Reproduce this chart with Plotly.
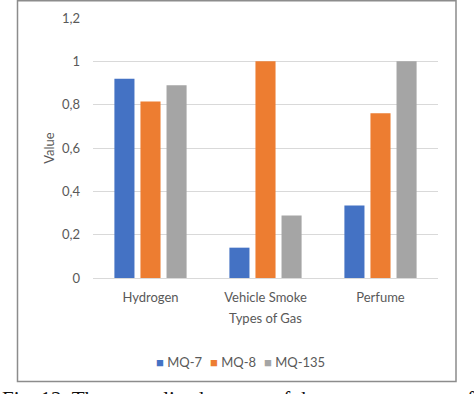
import plotly.graph_objects as go

categories = ["Hydrogen", "Vehicle Smoke", "Perfume"]
series_names = ["MQ-7", "MQ-8", "MQ-135"]
mq7 = [0.92, 0.14, 0.335]
mq8 = [0.815, 1.0, 0.76]
mq135 = [0.89, 0.288, 1.0]
colors = ["#4472C4", "#ED7D31", "#A5A5A5"]
y_ticks = [0, 0.2, 0.4, 0.6, 0.8, 1.0, 1.2]
y_ticktext = ["0", "0,2", "0,4", "0,6", "0,8", "1", "1,2"]
caption = "Fig. 12. The normalized pattern of the gas sensor array for"

W, H = 474, 394
L, R, T, B = 93, 36, 18, 116
pw, ph = W - L - R, H - T - B

def px_x(p):
    return (p - L) / pw

def px_y(p):
    return (H - B - p) / ph

fig = go.Figure()
for name, vals, c in zip(series_names, [mq7, mq8, mq135], colors):
    fig.add_trace(go.Bar(x=categories, y=vals, name=name, marker_color=c,
                         marker_line_width=0, showlegend=False))
for name, c in zip(series_names, colors):
    fig.add_trace(go.Scatter(x=[None], y=[None], mode="markers",
                             name=f"<span style='color:{c}'>■</span> {name}",
                             marker=dict(symbol="square", size=1,
                                         color="rgba(0,0,0,0)")))
# spacer entry so the last legend label is not clipped
fig.add_trace(go.Scatter(x=[None], y=[None], mode="markers", name=" ",
                         marker=dict(size=1, color="rgba(0,0,0,0)"),
                         hoverinfo="skip"))

font = "Lato, 'Open Sans', sans-serif"
fig.update_layout(
    width=W, height=H,
    margin=dict(l=L, r=R, t=T, b=B, pad=0, autoexpand=False),
    paper_bgcolor="white", plot_bgcolor="white",
    font=dict(family=font, size=13, color="#595959"),
    barmode="group", bargap=0.32, bargroupgap=0.23,
    legend=dict(orientation="h", xref="container", yref="container",
                x=116 / W, xanchor="left",
                y=1 - 362 / H, yanchor="middle",
                font=dict(size=13, color="#595959"),
                itemwidth=30, entrywidth=9, entrywidthmode="pixels",
                tracegroupgap=0, bgcolor="rgba(0,0,0,0)"),
    xaxis=dict(showgrid=False, showline=False, ticks="", ticklabelstandoff=10,
               automargin=False,
               title=dict(text="Types of Gas", standoff=9, font=dict(size=13))),
    yaxis=dict(range=[0, 1.2], tickvals=y_ticks, ticktext=y_ticktext,
               automargin=False,
               showgrid=True, gridcolor="#D9D9D9", gridwidth=1,
               zeroline=True, zerolinecolor="#D9D9D9", zerolinewidth=1,
               showline=False, ticks="", ticklabelstandoff=12,
               title=dict(text="Value", standoff=4, font=dict(size=13))),
    shapes=[dict(type="rect", xref="paper", yref="paper",
                 x0=px_x(17.5), x1=px_x(456), y0=px_y(381.5), y1=px_y(0.75),
                 line=dict(color="#8C8C8C", width=1.5), layer="below")],
    annotations=[dict(text=caption, xref="paper", yref="paper",
                      x=px_x(0), xanchor="left", y=px_y(385), yanchor="top",
                      showarrow=False,
                      font=dict(family="'Liberation Serif', 'Times New Roman', serif",
                                size=21, color="#111111"))],
)

fig.write_html("out.html", config={"displayModeBar": False},
               post_script="document.body.style.margin='0';")
